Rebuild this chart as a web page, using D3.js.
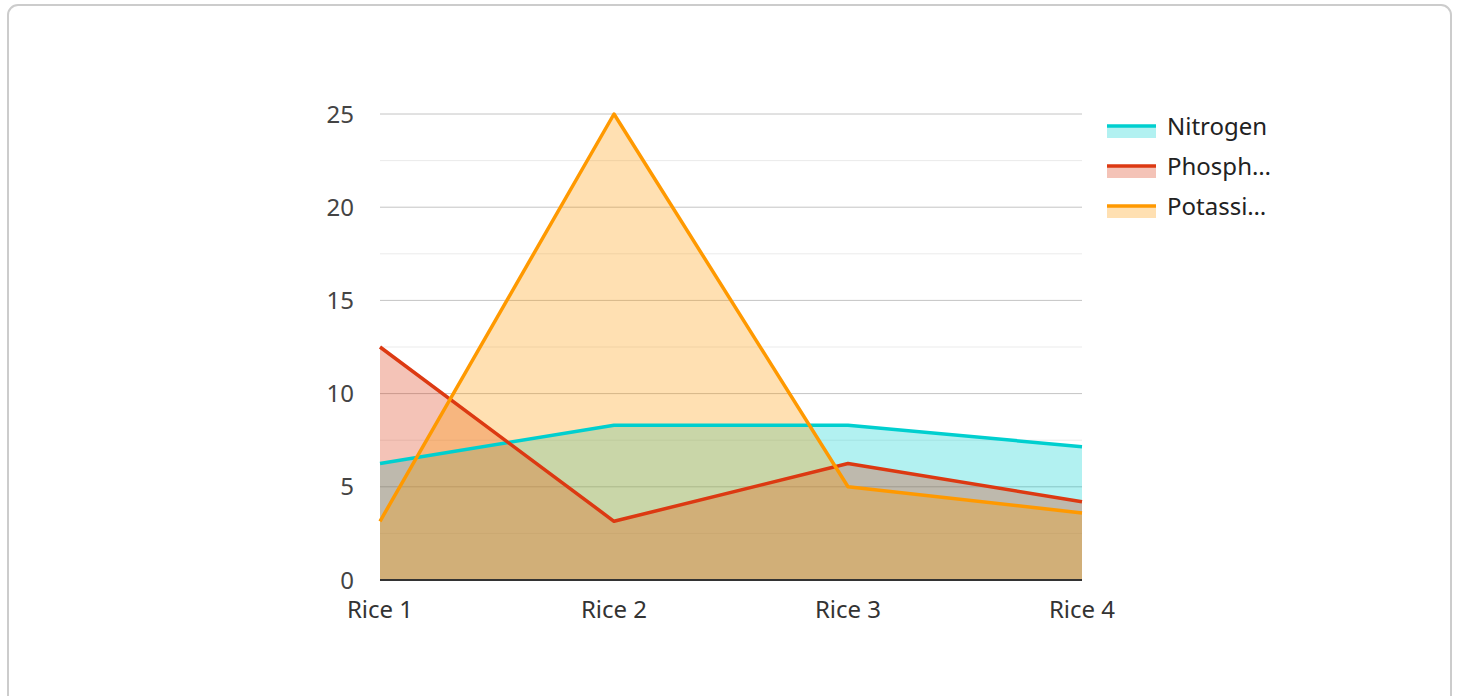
<!DOCTYPE html>
<html>
<head>
<meta charset="utf-8">
<script src="https://cdn.jsdelivr.net/npm/d3@7"></script>
<style>
  html, body { margin: 0; padding: 0; background: #fff; }
  svg { display: block; font-family: "Noto Sans", "Open Sans", sans-serif; }
</style>
</head>
<body>
<div id="chart"></div>
<script>
// Chart data
const categories = ["Rice 1", "Rice 2", "Rice 3", "Rice 4"];
const seriesNames = ["Nitrogen", "Phosphorus", "Potassium"];
const legendLabels = ["Nitrogen", "Phosph…", "Potassi…"];
const nitrogen = [6.25, 8.3, 8.3, 7.15];
const phosphorus = [12.5, 3.15, 6.25, 4.2];
const potassium = [3.15, 25, 5, 3.6];
const yTicks = [0, 5, 10, 15, 20, 25];
const yMinorTicks = [2.5, 7.5, 12.5, 17.5, 22.5];
const colors = ["#00cfcf", "#dc3912", "#ff9900"];

const W = 1458, H = 696;
const margin = { top: 114, right: 376, bottom: 116, left: 380 };

const svg = d3.select("#chart").append("svg")
    .attr("width", W)
    .attr("height", H);

// card border
svg.append("rect")
    .attr("x", 8).attr("y", 5)
    .attr("width", 1443).attr("height", 710)
    .attr("rx", 10)
    .attr("fill", "#fff")
    .attr("stroke", "#ccc")
    .attr("stroke-width", 2);

const x = d3.scalePoint()
    .domain(categories)
    .range([margin.left, W - margin.right]);

const y = d3.scaleLinear()
    .domain([0, 25])
    .range([H - margin.bottom, margin.top]);

// minor gridlines
svg.append("g")
    .selectAll("line")
    .data(yMinorTicks)
    .enter().append("line")
    .attr("x1", x.range()[0]).attr("x2", x.range()[1])
    .attr("y1", d => y(d)).attr("y2", d => y(d))
    .attr("stroke", "#ebebeb")
    .attr("stroke-width", 1);

// major gridlines
svg.append("g")
    .selectAll("line")
    .data(yTicks.filter(d => d > 0))
    .enter().append("line")
    .attr("x1", x.range()[0]).attr("x2", x.range()[1])
    .attr("y1", d => y(d)).attr("y2", d => y(d))
    .attr("stroke", "#c4c4c4")
    .attr("stroke-width", 1);

// y labels
svg.append("g")
    .selectAll("text")
    .data(yTicks)
    .enter().append("text")
    .attr("x", 354)
    .attr("y", d => y(d))
    .attr("dy", "0.36em")
    .attr("text-anchor", "end")
    .attr("fill", "#444")
    .style("font-size", "24px")
    .text(d => d);

// x labels
svg.append("g")
    .selectAll("text")
    .data(categories)
    .enter().append("text")
    .attr("x", d => x(d))
    .attr("y", 618)
    .attr("text-anchor", "middle")
    .attr("fill", "#333")
    .style("font-size", "24px")
    .text(d => d);

const seriesData = [nitrogen, phosphorus, potassium];

const area = d3.area()
    .x((d, i) => x(categories[i]))
    .y0(y(0))
    .y1(d => y(d));

const line = d3.line()
    .x((d, i) => x(categories[i]))
    .y(d => y(d));

// areas
svg.append("g")
    .selectAll("path")
    .data(seriesData)
    .enter().append("path")
    .attr("d", area)
    .attr("fill", (d, i) => colors[i])
    .attr("fill-opacity", 0.3);

// baseline
svg.append("line")
    .attr("x1", x.range()[0]).attr("x2", x.range()[1])
    .attr("y1", y(0)).attr("y2", y(0))
    .attr("stroke", "#333")
    .attr("stroke-width", 2);

// lines
svg.append("g")
    .selectAll("path")
    .data(seriesData)
    .enter().append("path")
    .attr("d", line)
    .attr("fill", "none")
    .attr("stroke", (d, i) => colors[i])
    .attr("stroke-width", 3.5)
    .attr("stroke-linejoin", "round");

// legend
const legend = svg.append("g")
    .selectAll("g")
    .data(seriesNames)
    .enter().append("g")
    .attr("transform", (d, i) => `translate(1107, ${126 + i * 40})`);

legend.append("rect")
    .attr("x", 0).attr("y", 0)
    .attr("width", 49).attr("height", 12)
    .attr("fill", (d, i) => colors[i])
    .attr("fill-opacity", 0.3);

legend.append("line")
    .attr("x1", 0).attr("x2", 49)
    .attr("y1", 0).attr("y2", 0)
    .attr("stroke", (d, i) => colors[i])
    .attr("stroke-width", 3.5);

legend.append("text")
    .attr("x", 60)
    .attr("y", 0)
    .attr("dy", "0.36em")
    .attr("fill", "#222")
    .style("font-size", "24px")
    .text((d, i) => legendLabels[i]);
</script>
</body>
</html>
